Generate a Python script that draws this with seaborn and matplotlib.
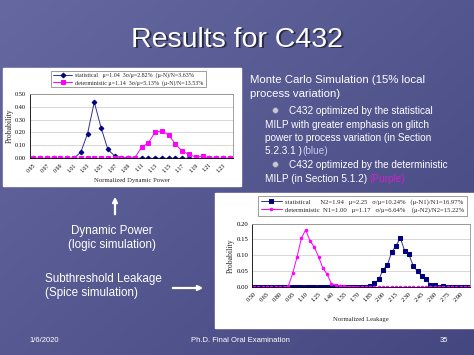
import numpy as np
import pandas as pd
import seaborn as sns
import matplotlib
matplotlib.use("Agg")
import matplotlib.pyplot as plt

sns.set_style("white")
plt.rcParams['font.family'] = ['Liberation Sans', 'DejaVu Sans']

# dynamic power (top chart)
power_x = [0.95, 0.96, 0.97, 0.98, 0.99, 1.00, 1.01, 1.02, 1.03, 1.04,
           1.05, 1.06, 1.07, 1.08, 1.09, 1.10, 1.11, 1.12, 1.13, 1.14,
           1.15, 1.16, 1.17, 1.18, 1.19, 1.20, 1.21, 1.22, 1.23, 1.24]
power_stat = [0, 0, 0, 0, 0, 0, 0.002, 0.046, 0.19, 0.435,
              0.237, 0.07, 0.018, 0.005, 0, 0, 0, 0, 0, 0,
              0, 0, 0, 0, 0, 0, 0, 0, 0, 0]
power_det = [0, 0, 0, 0, 0, 0, 0, 0, 0, 0,
             0, 0, 0, 0.005, 0.005, 0.005, 0.085, 0.12, 0.203, 0.211,
             0.18, 0.11, 0.054, 0.03, 0.01, 0.014, 0.005, 0, 0, 0]
power_ticks = [0.95, 0.97, 0.99, 1.01, 1.03, 1.05, 1.07, 1.09, 1.11, 1.13,
               1.15, 1.17, 1.19, 1.21, 1.23]

# leakage (bottom chart)
leak_x = [0.50, 0.55, 0.60, 0.65, 0.70, 0.75, 0.80, 0.85, 0.90, 0.95,
          1.00, 1.05, 1.10, 1.15, 1.20, 1.25, 1.30, 1.35, 1.40, 1.45,
          1.50, 1.55, 1.60, 1.65, 1.70, 1.75, 1.80, 1.85, 1.90, 1.95,
          2.00, 2.05, 2.10, 2.15, 2.20, 2.25, 2.30, 2.35, 2.40, 2.45,
          2.50, 2.55, 2.60, 2.65, 2.70, 2.75, 2.80, 2.85, 2.90, 2.95, 3.00]
leak_stat = [0, 0, 0, 0, 0, 0, 0, 0, 0, 0,
             0, 0, 0, 0, 0, 0, 0, 0, 0, 0,
             0, 0, 0, 0, 0, 0, 0, 0.003, 0.012, 0.025,
             0.055, 0.07, 0.11, 0.13, 0.155, 0.115, 0.103, 0.067, 0.05, 0.036,
             0.025, 0.008, 0.007, 0.002, 0.003, 0.002, 0.002, 0.002, 0.002, 0.002, 0.002]
leak_det = [0, 0, 0, 0, 0, 0, 0, 0, 0.005, 0.044,
            0.095, 0.154, 0.18, 0.146, 0.126, 0.096, 0.06, 0.041, 0.011, 0.008,
            0.004, 0.003, 0.002, 0.002, 0.002, 0, 0, 0, 0, 0,
            0, 0, 0, 0, 0, 0, 0, 0, 0, 0,
            0, 0, 0, 0, 0, 0, 0, 0, 0, 0, 0]
leak_ticks = [0.50, 0.65, 0.80, 0.95, 1.10, 1.25, 1.40, 1.55, 1.70, 1.85,
              2.00, 2.15, 2.30, 2.45, 2.60, 2.75, 2.90]

W, H = 474, 355
fig = plt.figure(figsize=(4.74, 3.55), dpi=100)

# slide background
bg = fig.add_axes([0, 0, 1, 1])
gx, gy = np.meshgrid(np.linspace(0, 1, 200), np.linspace(0, 1, 150))
c0 = np.array([0.40, 0.41, 0.63])
img = c0[None, None, :] - 0.07 * gx[..., None] - 0.06 * gy[..., None]
bg.imshow(img, extent=[0, W, H, 0], aspect='auto')
bg.set_xlim(0, W)
bg.set_ylim(H, 0)
bg.axis('off')

# white chart panels
bg.add_patch(plt.Rectangle((3, 68), 238, 118, color='white', zorder=2))
bg.add_patch(plt.Rectangle((215, 193), 259, 135, color='white', zorder=2))

shadow = '#2a2b45'
bg.text(238.5, 41.5, 'Results for C432', fontsize=20.5, color=shadow, ha='center', va='center', zorder=3)
bg.text(237, 40, 'Results for C432', fontsize=20.5, color='white', ha='center', va='center', zorder=4)

txt = dict(color='white', va='center', zorder=4)
bg.text(250, 80, 'Monte Carlo Simulation (15% local', fontsize=8.2, **txt)
bg.text(250, 94, 'process variation)', fontsize=8.2, **txt)
for yb in (110, 164):
    bg.plot(275, yb, 'o', ms=4.2, color='#c8c8d2', mec='#7070a0', mew=0.5, zorder=4)
bg.text(289, 111, 'C432 optimized by the statistical', fontsize=7.2, **txt)
bg.text(265, 124.5, 'MILP with greater emphasis on glitch', fontsize=7.2, **txt)
bg.text(265, 138, 'power to process variation (in Section', fontsize=7.2, **txt)
bg.text(265, 151.5, '5.2.3.1 )', fontsize=7.2, **txt)
bg.text(302, 151.5, '(blue)', fontsize=7.2, color='#c8c8f0', va='center', zorder=4)
bg.text(289, 165, 'C432 optimized by the deterministic', fontsize=7.2, **txt)
bg.text(265, 178.5, 'MILP (in Section 5.1.2)', fontsize=7.2, **txt)
bg.text(369, 178.5, '(Purple)', fontsize=7.2, color='#cc22cc', va='center', zorder=4)

bg.text(112, 231, 'Dynamic Power', fontsize=8.4, ha='center', **txt)
bg.text(112, 245, '(logic simulation)', fontsize=8.4, ha='center', **txt)
bg.text(45, 279, 'Subthreshold Leakage', fontsize=8.4, **txt)
bg.text(45, 293, '(Spice simulation)', fontsize=8.4, **txt)
bg.annotate('', xy=(115, 194), xytext=(115, 217), zorder=4,
            arrowprops=dict(arrowstyle='-|>', color='white', lw=1.6, mutation_scale=7))
bg.annotate('', xy=(206, 288), xytext=(170, 288), zorder=4,
            arrowprops=dict(arrowstyle='-|>', color='white', lw=1.6, mutation_scale=7))

bg.text(29, 340, '1/6/2020', fontsize=5.5, **txt)
bg.text(240, 340, 'Ph.D. Final Oral Examination', fontsize=5.5, ha='center', **txt)
bg.text(440, 340, '35', fontsize=5.5, **txt)

serif = ['Liberation Serif', 'DejaVu Serif']
navy = '#000080'
line_navy = '#333399'
mag = '#ff00ff'


def make_axes(left, right, top, bottom):
    return fig.add_axes([left / W, 1 - bottom / H, (right - left) / W, (bottom - top) / H])


def style_axes(ax, ymax, ystep, xticks, xlabel, xlab_y, ylab_x, fs):
    ax.set_ylim(0, ymax)
    yt = np.arange(0, ymax + ystep / 2, ystep)
    ax.set_yticks(yt)
    ax.set_yticklabels(['%.2f' % v for v in yt], family=serif, fontsize=fs + 0.3)
    ax.set_xticks(xticks)
    ax.set_xticklabels(['%.2f' % v for v in xticks], family=serif, fontsize=fs,
                       rotation=45, ha='right', rotation_mode='anchor')
    ax.tick_params(axis='both', length=1.5, width=0.4, pad=1.5, colors='black')
    ax.grid(axis='y', color='#c8c8c8', lw=0.5)
    ax.set_axisbelow(True)
    for s in ax.spines.values():
        s.set_color('#909090')
        s.set_linewidth(0.6)
    ax.spines['left'].set_color('black')
    ax.spines['bottom'].set_color('black')
    ax.set_xlabel('')
    ax.set_ylabel('')
    ax.text(0.5, xlab_y, xlabel, transform=ax.transAxes, ha='center', va='center',
            family=serif, fontsize=4.8)
    ax.text(ylab_x, 0.5, 'Probability', transform=ax.transAxes, ha='center', va='center',
            family=serif, fontsize=5.6, rotation=90)


# top chart: dynamic power
ax1 = make_axes(30, 233, 93.7, 158.3)
df1 = pd.DataFrame({'x': power_x, 'stat': power_stat, 'det': power_det})
sns.lineplot(data=df1, x='x', y='stat', ax=ax1, color=line_navy, lw=0.7, marker='D',
             markersize=2.4, markerfacecolor=navy, markeredgecolor=navy,
             label='statistical   \u03bc=1.04  3\u03c3/\u03bc=2.82%  (\u03bc-N)/N=3.63%')
sns.lineplot(data=df1, x='x', y='det', ax=ax1, color=mag, lw=0.7, marker='s',
             markersize=2.4, markerfacecolor=mag, markeredgecolor=mag,
             label='deterministic \u03bc=1.14  3\u03c3/\u03bc=5.13%  (\u03bc-N)/N=13.53%')
ax1.set_xlim(0.945, 1.245)
style_axes(ax1, 0.5, 0.1, power_ticks, 'Normalized Dynamic Power', -0.34, -0.1, 4.2)
ax1.legend(loc='center', bbox_to_anchor=((57 + 200) / 2 / W, 1 - 79 / H),
           bbox_transform=fig.transFigure, prop={'family': serif, 'size': 4.3},
           frameon=True, fancybox=False, edgecolor='#555555', borderpad=0.3,
           labelspacing=0.25, handlelength=3.2, handletextpad=0.5)
ax1.get_legend().get_frame().set_linewidth(0.5)

# bottom chart: leakage
ax2 = make_axes(252.3, 470, 223.5, 287.3)
df2 = pd.DataFrame({'x': leak_x, 'stat': leak_stat, 'det': leak_det})
sns.lineplot(data=df2, x='x', y='stat', ax=ax2, color=line_navy, lw=0.7, marker='s',
             markersize=2.2, markerfacecolor=navy, markeredgecolor=navy,
             label='statistical      N2=1.94   \u03bc=2.25   \u03c3/\u03bc=10.24%   (\u03bc-N1)/N1=16.97%')
sns.lineplot(data=df2, x='x', y='det', ax=ax2, color=mag, lw=0.7, marker='o',
             markersize=1.8, markerfacecolor=mag, markeredgecolor=mag,
             label='deterministic  N1=1.00   \u03bc=1.17   \u03c3/\u03bc=6.64%    (\u03bc-N2)/N2=15.22%')
ax2.set_xlim(0.48, 3.01)
style_axes(ax2, 0.2, 0.05, leak_ticks, 'Normalized Leakage', -0.5, -0.1, 4.6)
ax2.legend(loc='center', bbox_to_anchor=((253 + 472) / 2 / W, 1 - 206 / H),
           bbox_transform=fig.transFigure, prop={'family': serif, 'size': 4.8},
           frameon=True, fancybox=False, edgecolor='#555555', borderpad=0.35,
           labelspacing=0.35, handlelength=3.2, handletextpad=0.5)
ax2.get_legend().get_frame().set_linewidth(0.5)

fig.savefig('out.png', dpi=100)
